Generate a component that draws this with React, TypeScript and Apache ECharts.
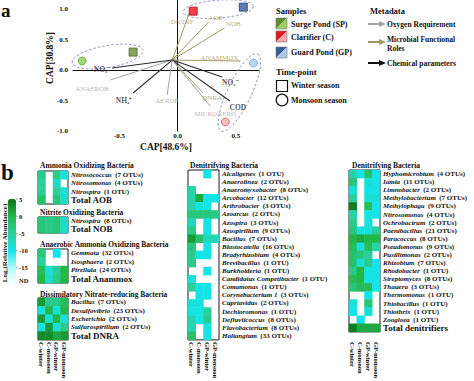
import React, { useEffect, useRef } from 'react';
import * as echarts from 'echarts';

const FONT = 'Liberation Serif';
const N = null;

// ---------- Panel a data ----------
const sampleNames = ['SP-winter', 'SP-monsoon', 'C-winter', 'C-monsoon', 'GP-winter', 'GP-monsoon'];
const sampleCapX = [-0.383, -0.822, 0.134, 0.411, 0.565, 0.652];
const sampleCapY = [0.295, 0.148, 0.967, -0.852, 1.033, 0.115];
const ellipseGroups = [['SP-winter', 'SP-monsoon'], ['C-winter', 'GP-winter'], ['C-monsoon', 'GP-monsoon']];

const vectorOrigin = [-0.047, 0.164];
const vectorNames = ['DNTRF', 'AOB', 'NOB', 'ANAMMOX', 'NO₂⁻', 'COD', 'DNRA', 'MICROAERO', 'AEROB', 'NH₄⁺', 'ANAEROB', 'NO₃⁻'];
const vectorX = [0.1, 0.266, 0.402, 0.54, 0.384, 0.45, 0.22, 0.28, -0.09, -0.383, -0.581, -0.564];
const vectorY = [0.934, 0.787, 0.689, 0.148, -0.115, -0.508, -0.377, -0.59, -0.41, -0.377, -0.164, 0.033];
const vectorKind = ['role', 'role', 'role', 'role', 'chem', 'chem', 'role', 'oxygen', 'oxygen', 'chem', 'oxygen', 'chem'];

// ---------- Panel b data ----------
const heatCols = ['C-winter', 'C-monsoon', 'GP-winter', 'GP-monsoon'];

const aobRows = ['Nitrosococcus (7 OTUs)', 'Nitrosomonas (4 OTUs)', 'Nitrospira (1 OTU)', 'Total AOB'];
const aobValues = [[-4, N, -4, -9], [-5, N, -8, N], [-5, N, -5, -9], [-2, N, -3, -8]];

const nobRows = ['Nitrospira (8 OTUs)', 'Total NOB'];
const nobValues = [[-3, -4, -3, -8], [-3, -4, -3, -8]];

const anammoxRows = ['Gemmata (32 OTUs)', 'Isosphaera (2 OTUs)', 'Pirellula (24 OTUs)', 'Total Anammox'];
const anammoxValues = [[-3, N, -10, N], [-5, N, N, N], [-1, -9, -5, 0], [0, -8, -4, 0]];

const dnraRows = ['Bacillus (7 OTUs)', 'Desulfovibrio (23 OTUs)', 'Escherichia (2 OTUs)', 'Sulfurospirillum (2 OTUs)', 'Total DNRA'];
const dnraValues = [[2, -4, -4, -1], [-9, 0, -9, 0], [2, -9, 0, -9], [-9, 2, -9, -4], [3, 3, 1, 2]];

const denitRowsA = [
  'Alcaligenes (1 OTU)', 'Anaerolinea (2 OTUs)', 'Anaeromyxobacter (8 OTUs)', 'Arcobacter (12 OTUs)',
  'Arthrobacter (3 OTUs)', 'Azoarcus (2 OTUs)', 'Azospira (3 OTUs)', 'Azospirillum (9 OTUs)',
  'Bacillus (7 OTUs)', 'Blastocatella (16 OTUs)', 'Bradyrhizobium (4 OTUs)', 'Brevibacillus (1 OTU)',
  'Burkholderia (1 OTU)', 'Candidatus Competibacter (1 OTU)', 'Comamonas (1 OTU)', 'Corynebacterium 1 (3 OTUs)',
  'Cupriavidus (2 OTUs)', 'Dechloromonas (1 OTU)', 'Defluviicoccus (8 OTUs)', 'Flavobacterium (8 OTUs)',
  'Haliangium (33 OTUs)',
];
const denitValuesA = [
  [N, N, -10, N], [N, N, N, N], [-6, N, N, N], [-6, 1, -10, -10],
  [-6, -10, -10, N], [-3, -3, -3, -4], [-7, N, -10, N], [-4, N, -10, N],
  [2, -2, -7, -7], [-3, N, -10, N], [-4, -10, -10, N], [-4, N, N, N],
  [N, N, -10, N], [-9, N, N, N], [-5, -10, -10, N], [N, -10, -10, N],
  [-9, -10, N, N], [-10, -10, -5, N], [-6, -10, -4, N], [-7, N, -10, N],
  [-2, N, -10, N],
];

const denitRowsB = [
  'Hyphomicrobium (4 OTUs)', 'Iamia (11 OTUs)', 'Limnobacter (2 OTUs)', 'Methylobacterium (7 OTUs)',
  'Methylophaga (9 OTUs)', 'Nitrosomonas (4 OTUs)', 'Ochrobactrum (2 OTUs)', 'Paenibacillus (21 OTUs)',
  'Paracoccus (8 OTUs)', 'Pseudomonas (9 OTUs)', 'Pusillimonas (2 OTUs)', 'Rhizobium (7 OTUs)',
  'Rhodobacter (1 OTU)', 'Streptomyces (8 OTUs)', 'Thauera (3 OTUs)', 'Thermomonas (1 OTU)',
  'Thiobacillus (1 OTU)', 'Thiothrix (1 OTU)', 'Zoogloea (1 OTU)', 'Total denitrifiers',
];
const denitValuesB = [
  [-6, -10, -2, -10], [-3, N, -9, -10], [-9, N, -10, -10], [-5, N, -9, -9],
  [4, N, -1, -10], [-6, N, -10, -10], [-4, N, -9, N], [-3, -9, -9, -5],
  [0, 1, 0, 0], [-1, -9, -1, -6], [-2, -3, -5, N], [-2, -9, -4, -10],
  [-4, 0, -10, -10], [-1, 0, -10, -10], [-3, -1, -1, -10], [N, N, -10, N],
  [-9, N, -3, N], [-10, N, -9, N], [N, -10, N, N], [4, 1, 1, 1],
];

const colorbarTicks = [5, 0, -5, -10, -15];
const colorbarND = -18.5;

// ---------- Styles ----------
const kindColor: Record<string, string> = { role: '#9f9862', oxygen: '#a3a3a3', chem: '#2a2a2a' };
const vectorLabelOffset: Record<string, number[]> = {
  DNTRF: [-7, 9], AOB: [7, -4], NOB: [9, -4], ANAMMOX: [-21, -3], 'NO₂⁻': [8, 5], COD: [8, 6],
  DNRA: [9, 5], MICROAERO: [5, 8], AEROB: [0, 6], 'NH₄⁺': [-9, 7], ANAEROB: [-18, 9], 'NO₃⁻': [-10, 1],
};
const sampleStyle: Record<string, any> = {
  'SP-winter': { symbol: 'rect', color: '#6b8b38', border: '#4f6b26' },
  'SP-monsoon': { symbol: 'circle', color: '#8fcb5a', border: '#6aa83c' },
  'C-winter': { symbol: 'rect', color: '#e8141c', border: '#b20d12' },
  'C-monsoon': { symbol: 'circle', color: '#f3b0b6', border: '#d9505a' },
  'GP-winter': { symbol: 'rect', color: '#2f5c9c', border: '#1f3f70' },
  'GP-monsoon': { symbol: 'circle', color: '#a9c9ec', border: '#7aa4d6' },
};
const ellipsePad = [10, 10, 10];
const ellipseMinor = [11, 9, 12];
const heatColors = ['#ffffff', '#b4f8f8', '#14e4e6', '#2ccf9a', '#22b848', '#0b6e1c'];

const heatBlocks = [
  { rows: aobRows, values: aobValues, rect: { left: 38, top: 171, width: 30, height: 33 }, showCols: false, margin: 2 },
  { rows: nobRows, values: nobValues, rect: { left: 38, top: 217, width: 30, height: 16 }, showCols: false, margin: 2 },
  { rows: anammoxRows, values: anammoxValues, rect: { left: 38, top: 249, width: 30, height: 34 }, showCols: false, margin: 2 },
  { rows: dnraRows, values: dnraValues, rect: { left: 38, top: 298, width: 30, height: 42 }, showCols: true, margin: 2 },
  { rows: denitRowsA, values: denitValuesA, rect: { left: 188, top: 170, width: 31, height: 170 }, showCols: true, margin: 2 },
  { rows: denitRowsB, values: denitValuesB, rect: { left: 349, top: 170, width: 31, height: 162 }, showCols: true, margin: 10 },
];

function txt(text: string, x: number, y: number, size: number, extra: any = {}, el: any = {}) {
  const align = extra.align || 'left';
  return {
    type: 'text', x, y, silent: true, ...el,
    style: {
      text, fontSize: size, fontFamily: FONT, fontWeight: 'bold', fill: '#111',
      align, textAlign: align, verticalAlign: 'middle', textVerticalAlign: 'middle', ...extra,
    },
  };
}

function rowLabel(v: string) {
  const m = v.match(/^(.*) (\(\d+ OTUs?\))$/);
  if (m) return `{i|${m[1]}} {b|${m[2]}}`;
  return `{t|${v}}`;
}

export default function App() {
  const ref = useRef<HTMLDivElement>(null);
  useEffect(() => {
    if (!ref.current) return;
    const chart = echarts.init(ref.current, undefined, { renderer: 'svg' });

    const grids: any[] = [{ left: 73, top: 0, width: 186, height: 131 }];
    const xAxes: any[] = [{
      gridIndex: 0, type: 'value', min: -0.9, max: 0.7, interval: 0.1,
      axisLine: { lineStyle: { color: '#111', width: 1 } }, axisTick: { show: false }, splitLine: { show: false },
      axisLabel: {
        margin: 1, fontSize: 7, fontWeight: 'bold', fontFamily: FONT, color: '#111',
        formatter: (v: number) => (Math.abs(v * 2 - Math.round(v * 2)) < 1e-6 ? v.toFixed(1) : ''),
      },
    }];
    const yAxes: any[] = [{
      gridIndex: 0, type: 'value', min: -1, max: 1.15, interval: 0.5,
      axisLine: { show: true, lineStyle: { color: '#111', width: 1 } }, axisTick: { show: false }, splitLine: { show: false },
      axisLabel: {
        margin: 5, fontSize: 7, fontWeight: 'bold', fontFamily: FONT, color: '#111',
        formatter: (v: number) => (Math.abs(v * 2 - Math.round(v * 2)) < 1e-6 ? v.toFixed(1) : ''),
      },
    }];
    const series: any[] = [];

    heatBlocks.forEach((b, k) => {
      const gi = k + 1;
      grids.push({ ...b.rect, show: true, borderColor: '#1a1a1a', borderWidth: 1, backgroundColor: 'transparent' });
      xAxes.push({
        gridIndex: gi, type: 'category', data: heatCols,
        axisLine: { show: false }, axisTick: { show: false }, splitLine: { show: false },
        axisLabel: {
          show: b.showCols, interval: 0, rotate: -90, margin: b.margin,
          fontSize: 6.5, fontWeight: 'bold', fontFamily: FONT, color: '#111',
        },
      });
      yAxes.push({
        gridIndex: gi, type: 'category', data: b.rows, inverse: true, position: 'right',
        axisLine: { show: false }, axisTick: { show: false }, splitLine: { show: false },
        axisLabel: {
          interval: 0, margin: 3, formatter: rowLabel, color: '#111',
          rich: {
            i: { fontSize: 7, fontStyle: 'italic', fontWeight: 'bold', fontFamily: FONT, color: '#111' },
            b: { fontSize: 7, fontWeight: 'bold', fontFamily: FONT, color: '#111' },
            t: { fontSize: 9, fontWeight: 'bold', fontFamily: FONT, color: '#111' },
          },
        },
      });
      const data: any[] = [];
      b.values.forEach((row, i) => row.forEach((v, j) => data.push([j, i, v == null ? '-' : v])));
      series.push({
        type: 'heatmap', xAxisIndex: gi, yAxisIndex: gi, data, silent: true,
        itemStyle: { borderWidth: 0 }, emphasis: { disabled: true },
      });
    });

    const sx = (name: string) => sampleCapX[sampleNames.indexOf(name)];
    const sy = (name: string) => sampleCapY[sampleNames.indexOf(name)];

    series.push({
      type: 'custom', xAxisIndex: 0, yAxisIndex: 0, clip: false, silent: true, z: 1,
      data: ellipseGroups.map((_, i) => [i]),
      renderItem: (params: any, api: any) => {
        const gi = api.value(0);
        const g = ellipseGroups[gi];
        const p1 = api.coord([sx(g[0]), sy(g[0])]);
        const p2 = api.coord([sx(g[1]), sy(g[1])]);
        const cx = (p1[0] + p2[0]) / 2, cy = (p1[1] + p2[1]) / 2;
        const dx = p2[0] - p1[0], dy = p2[1] - p1[1];
        const th = Math.atan2(dy, dx);
        const a = Math.hypot(dx, dy) / 2 + ellipsePad[gi], bb = ellipseMinor[gi];
        const pts: number[][] = [];
        for (let t = 0; t < 72; t++) {
          const ang = (t / 72) * Math.PI * 2;
          const ex = a * Math.cos(ang), ey = bb * Math.sin(ang);
          pts.push([cx + ex * Math.cos(th) - ey * Math.sin(th), cy + ex * Math.sin(th) + ey * Math.cos(th)]);
        }
        return {
          type: 'polygon', shape: { points: pts },
          style: { fill: 'none', stroke: '#7e88b4', lineWidth: 0.9, lineDash: [2.5, 2] },
        };
      },
    });

    series.push({
      type: 'lines', coordinateSystem: 'cartesian2d', xAxisIndex: 0, yAxisIndex: 0, silent: true, z: 2,
      lineStyle: { width: 1, opacity: 1 },
      data: vectorNames.map((n, i) => ({
        coords: [vectorOrigin, [vectorX[i], vectorY[i]]],
        lineStyle: { color: kindColor[vectorKind[i]], width: vectorKind[i] === 'chem' ? 1.1 : 1 },
      })),
    });

    series.push({
      type: 'scatter', xAxisIndex: 0, yAxisIndex: 0, symbolSize: 0, silent: true, z: 4,
      data: vectorNames.map((n, i) => ({
        name: n, value: [vectorX[i], vectorY[i]],
        label: {
          show: true, position: 'inside', offset: vectorLabelOffset[n], formatter: '{b}',
          fontSize: vectorKind[i] === 'chem' ? 7.5 : 7, fontFamily: FONT,
          fontWeight: vectorKind[i] === 'chem' ? 'bold' : 'normal',
          color: kindColor[vectorKind[i]],
        },
      })),
    });

    series.push({
      type: 'scatter', xAxisIndex: 0, yAxisIndex: 0, silent: true, z: 5,
      data: sampleNames.map((n, i) => ({
        name: n, value: [sampleCapX[i], sampleCapY[i]],
        symbol: sampleStyle[n].symbol, symbolSize: 8,
        itemStyle: { color: sampleStyle[n].color, borderColor: sampleStyle[n].border, borderWidth: 1 },
      })),
    });

    const cbTop = 199, cbH = 86, cbMin = -20, cbMax = 5;
    const cbY = (v: number) => cbTop + ((cbMax - v) / (cbMax - cbMin)) * cbH;

    const graphic: any[] = [
      txt('a', 1, 10, 19),
      txt('b', 1, 172, 23),
      txt('CAP[48.6%]', 166, 147, 9.5, { align: 'center' }),
      txt('CAP[30.8%]', 50, 58, 9.5, { align: 'center' }, { rotation: Math.PI / 2 }),
      txt('Samples', 276, 11, 8.5),
      txt('Surge Pond (SP)', 291, 24, 8),
      txt('Clarifier (C)', 291, 37, 8),
      txt('Guard Pond (GP)', 291, 52, 8),
      txt('Time-point', 276, 72, 8.5),
      txt('Winter season', 291, 85, 8),
      txt('Monsoon season', 291, 100, 8),
      txt('Metadata', 370, 11, 8.5),
      txt('Oxygen Requirement', 387, 24, 7.5),
      txt('Microbial Functional', 387, 39, 7.5),
      txt('Roles', 387, 48, 7.5),
      txt('Chemical parameters', 387, 63, 7.5),
      { type: 'rect', shape: { x: 276.5, y: 80.5, width: 11, height: 11 }, style: { fill: '#fff', stroke: '#111', lineWidth: 1.2 } },
      { type: 'circle', shape: { cx: 282, cy: 100, r: 5.8 }, style: { fill: '#fff', stroke: '#111', lineWidth: 1.2 } },
      txt('Ammonia Oxidizing Bacteria', 40, 165, 7.5),
      txt('Nitrite Oxidizing Bacteria', 40, 212, 7.5),
      txt('Anaerobic Ammonia Oxidizing Bacteria', 40, 244, 7.5),
      txt('Dissimilatory Nitrate-reducing Bacteria', 40, 294, 7.5),
      txt('Denitrifying Bacteria', 190, 165, 7.5),
      txt('Denitrifying Bacteria', 352, 165, 7.5),
      txt('Log₂(Relative Abundance)', 5, 243, 7, { align: 'center' }, { rotation: Math.PI / 2 }),
    ];
    const legendSq: [number, string, string][] = [[18, '#5f8a30', '#9ccf6a'], [31, '#e8141c', '#f5a9ae'], [47, '#2f5c9c', '#abcbec']];
    legendSq.forEach(([y, dark, light]) => {
      const x = 276, s = 11;
      graphic.push({ type: 'polygon', shape: { points: [[x, y], [x + s, y], [x, y + s]] }, style: { fill: dark } });
      graphic.push({ type: 'polygon', shape: { points: [[x + s, y], [x + s, y + s], [x, y + s]] }, style: { fill: light } });
      graphic.push({ type: 'rect', shape: { x, y, width: s, height: s }, style: { fill: 'none', stroke: '#777', lineWidth: 0.6 } });
    });
    const legendArrows: [number, string][] = [[24, kindColor.oxygen], [42, kindColor.role], [63, '#111']];
    legendArrows.forEach(([y, c]) => {
      graphic.push({ type: 'line', shape: { x1: 368, y1: y, x2: 380, y2: y }, style: { stroke: c, lineWidth: 2 } });
      graphic.push({ type: 'polygon', shape: { points: [[379, y - 3], [386, y], [379, y + 3]] }, style: { fill: c } });
    });
    colorbarTicks.forEach((v) => {
      graphic.push(txt(String(v), 19, cbY(v), 6.5));
      graphic.push({ type: 'line', shape: { x1: 16, y1: cbY(v), x2: 17.5, y2: cbY(v) }, style: { stroke: '#333', lineWidth: 0.6 } });
    });
    graphic.push(txt('ND', 19, cbY(colorbarND) + 1, 6.5));

    chart.setOption({
      animation: false,
      backgroundColor: '#fff',
      grid: grids,
      xAxis: xAxes,
      yAxis: yAxes,
      visualMap: {
        type: 'continuous', min: cbMin, max: cbMax, seriesIndex: [0, 1, 2, 3, 4, 5],
        inRange: { color: heatColors }, show: true, calculable: false, hoverLink: false,
        left: 8, top: cbTop, itemWidth: 8, itemHeight: cbH, padding: 0, text: null, showLabel: false,
      },
      series,
      graphic,
    });
    return () => chart.dispose();
  }, []);
  return <div ref={ref} style={{ position: 'fixed', left: 0, top: 0, width: 474, height: 381 }} />;
}
